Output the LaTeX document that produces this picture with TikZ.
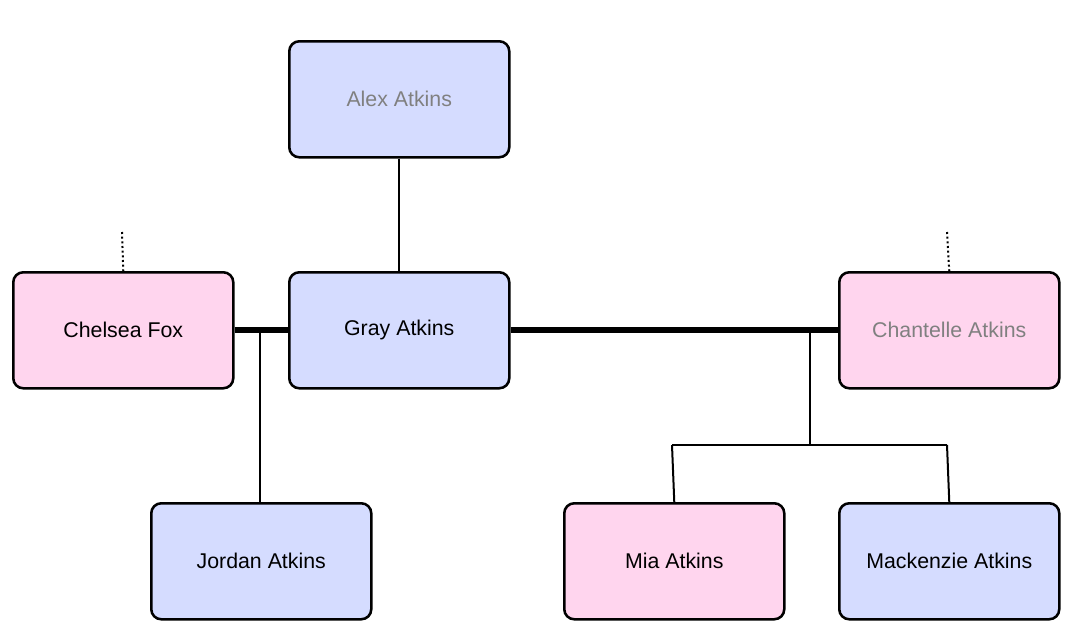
\documentclass[tikz,border=0pt]{standalone}
\usepackage{fontspec}
\setmainfont{Liberation Sans}
\definecolor{mblue}{HTML}{D5DCFF}
\definecolor{mpink}{HTML}{FFD5EE}
\definecolor{ghost}{HTML}{808080}
\begin{document}
\begin{tikzpicture}[x=0.75pt,y=-0.75pt,
  person/.style={draw=black,line width=1.9pt,rounded corners=7.5pt,minimum width=165pt,minimum height=87pt,inner sep=0pt,font=\fontsize{16}{19}\selectfont,anchor=north west},
  m/.style={person,fill=mblue},
  f/.style={person,fill=mpink},
  link/.style={line width=1.5pt},
  couple/.style={line width=4.5pt},
  anc/.style={line width=1.5pt,dotted}]
\useasboundingbox (0,0) rectangle (1070,632);
\node[m,text=ghost] (alex) at (288,40) {Alex Atkins};
\node[m] (gray) at (288,271) {Gray Atkins};
\node[f] (chelsea) at (12,271) {Chelsea Fox};
\node[f,text=ghost] (chantelle) at (838,271) {Chantelle Atkins};
\node[m] (jordan) at (150,502) {Jordan Atkins};
\node[f] (mia) at (563,502) {Mia Atkins};
\node[m] (mack) at (838,502) {Mackenzie Atkins};
\coordinate (ca) at (122,232);
\coordinate (cha) at (947,232);
\coordinate (j1) at (260,329);
\coordinate (k1) at (810,329);
\coordinate (k2) at (810,445);
\coordinate (k3) at (672,445);
\coordinate (k4) at (947,445);
\draw[link] (alex.south) -- (gray.north);
\draw[couple] (chelsea.east) -- (gray.west);
\draw[couple] (gray.east) -- (chantelle.west);
\draw[link] (j1) -- (j1 |- jordan.north);
\draw[link] (k1) -- (k2);
\draw[link] (k3) -- (k4);
\draw[link] (k3) -- (mia.north);
\draw[link] (k4) -- (mack.north);
\draw[anc] (ca) -- (chelsea.north);
\draw[anc] (cha) -- (chantelle.north);
\end{tikzpicture}
\end{document}
